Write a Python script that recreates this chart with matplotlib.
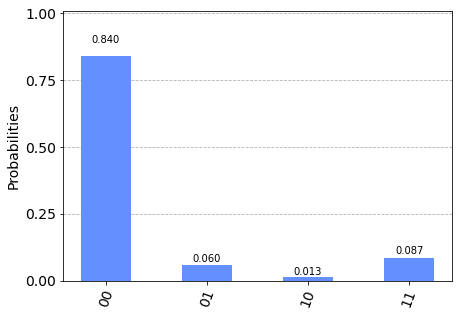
import matplotlib
matplotlib.use("Agg")
import matplotlib.pyplot as plt
import numpy as np

states = ["00", "01", "10", "11"]
probs = [0.840, 0.060, 0.013, 0.087]

fig = plt.figure(figsize=(461/72, 317/72), dpi=72)
ax = fig.add_axes([0.1367, 0.114, 0.8438, 0.851])
x = np.arange(len(states))
bars = ax.bar(x, probs, width=0.5, color="#648fff", zorder=2)
for xi, p in zip(x, probs):
    ax.text(xi, 1.05 * p, "%.3f" % p, ha="center", va="bottom", fontsize=10)
ax.set_xticks(x)
ax.set_xticklabels(states, rotation=70, fontsize=14)
ax.set_ylim(0, min(1.2, 1.2 * max(probs)))
ax.set_yticks([0, 0.25, 0.5, 0.75, 1.0])
ax.set_yticklabels(["0.00", "0.25", "0.50", "0.75", "1.00"], fontsize=14)
ax.set_ylabel("Probabilities", fontsize=14)
ax.grid(axis="y", linestyle="--", color="#b0b0b0", linewidth=0.8, zorder=0)
ax.set_axisbelow(True)
fig.savefig("out.png", dpi=72, facecolor="white")
